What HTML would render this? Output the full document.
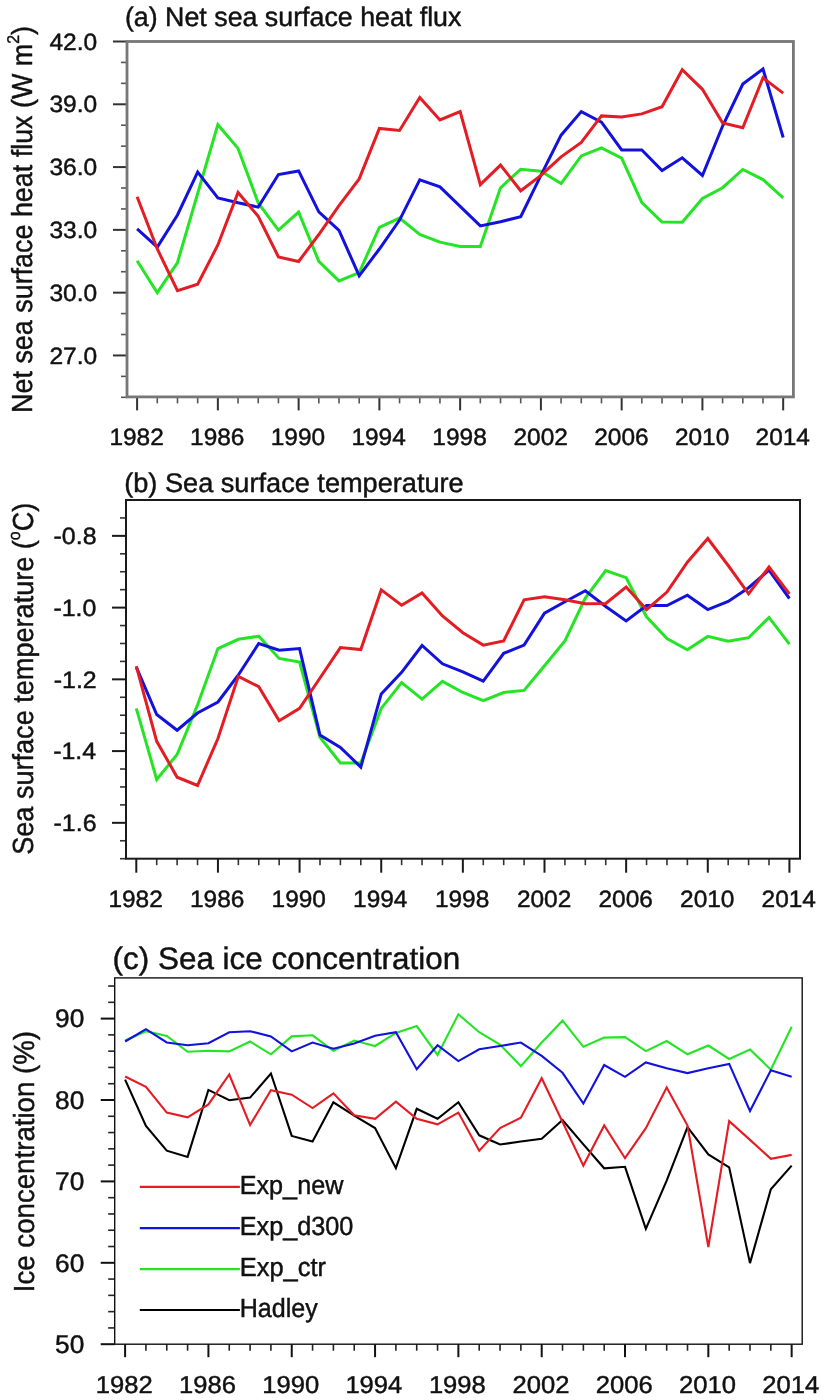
<!DOCTYPE html>
<html><head><meta charset="utf-8"><title>Chart</title>
<style>
html,body{margin:0;padding:0;background:#fff;}
body{width:825px;height:1400px;overflow:hidden;}
svg{display:block;font-family:"Liberation Sans", sans-serif;}
text{fill:#111;stroke:#111;stroke-width:0.45px;font-kerning:none;text-rendering:geometricPrecision;}
svg{will-change:transform;filter:blur(0.25px);}
</style></head>
<body>
<svg width="825" height="1400" viewBox="0 0 825 1400">
<rect x="0" y="0" width="825" height="1400" fill="#fff"/>
<polyline points="137.10,260.70 157.29,292.70 177.48,262.50 197.67,193.50 217.86,124.70 238.05,148.40 258.24,203.00 278.43,230.10 298.62,212.10 318.81,261.30 339.00,280.90 359.19,272.70 379.38,227.30 399.57,218.10 419.76,234.50 439.95,242.10 460.14,246.50 480.33,246.50 500.52,187.80 520.71,169.20 540.90,171.30 561.09,183.60 581.28,155.90 601.47,147.90 621.66,158.20 641.85,202.50 662.04,222.10 682.23,222.30 702.42,198.50 722.61,187.70 742.80,169.50 762.99,179.60 783.18,197.80" fill="none" stroke="#24e424" stroke-width="3.0" stroke-linejoin="miter" stroke-miterlimit="4" stroke-linecap="butt"/>
<polyline points="137.10,228.80 157.29,247.10 177.48,215.00 197.67,172.10 217.86,198.00 238.05,202.80 258.24,207.10 278.43,174.50 298.62,170.90 318.81,211.90 339.00,230.40 359.19,275.80 379.38,249.00 399.57,220.10 419.76,179.90 439.95,186.90 460.14,206.30 480.33,225.90 500.52,221.80 520.71,216.60 540.90,175.40 561.09,135.20 581.28,111.60 601.47,122.10 621.66,149.90 641.85,149.90 662.04,170.50 682.23,157.80 702.42,175.50 722.61,126.00 742.80,84.00 762.99,69.10 783.18,137.50" fill="none" stroke="#1212dc" stroke-width="3.0" stroke-linejoin="miter" stroke-miterlimit="4" stroke-linecap="butt"/>
<polyline points="137.10,196.80 157.29,249.00 177.48,290.60 197.67,284.20 217.86,245.00 238.05,192.50 258.24,216.40 278.43,256.90 298.62,261.50 318.81,234.50 339.00,205.70 359.19,178.90 379.38,128.40 399.57,130.50 419.76,97.50 439.95,120.00 460.14,111.50 480.33,184.70 500.52,165.10 520.71,190.80 540.90,175.40 561.09,156.80 581.28,142.50 601.47,115.90 621.66,117.00 641.85,113.90 662.04,106.70 682.23,69.70 702.42,89.30 722.61,123.00 742.80,127.80 762.99,77.80 783.18,93.10" fill="none" stroke="#e41c24" stroke-width="3.0" stroke-linejoin="miter" stroke-miterlimit="4" stroke-linecap="butt"/>
<line x1="137.10" y1="396.90" x2="137.10" y2="410.40" stroke="#333" stroke-width="2.0"/>
<line x1="157.29" y1="396.90" x2="157.29" y2="403.40" stroke="#555" stroke-width="1.6"/>
<line x1="177.48" y1="396.90" x2="177.48" y2="403.40" stroke="#555" stroke-width="1.6"/>
<line x1="197.67" y1="396.90" x2="197.67" y2="403.40" stroke="#555" stroke-width="1.6"/>
<line x1="217.86" y1="396.90" x2="217.86" y2="410.40" stroke="#333" stroke-width="2.0"/>
<line x1="238.05" y1="396.90" x2="238.05" y2="403.40" stroke="#555" stroke-width="1.6"/>
<line x1="258.24" y1="396.90" x2="258.24" y2="403.40" stroke="#555" stroke-width="1.6"/>
<line x1="278.43" y1="396.90" x2="278.43" y2="403.40" stroke="#555" stroke-width="1.6"/>
<line x1="298.62" y1="396.90" x2="298.62" y2="410.40" stroke="#333" stroke-width="2.0"/>
<line x1="318.81" y1="396.90" x2="318.81" y2="403.40" stroke="#555" stroke-width="1.6"/>
<line x1="339.00" y1="396.90" x2="339.00" y2="403.40" stroke="#555" stroke-width="1.6"/>
<line x1="359.19" y1="396.90" x2="359.19" y2="403.40" stroke="#555" stroke-width="1.6"/>
<line x1="379.38" y1="396.90" x2="379.38" y2="410.40" stroke="#333" stroke-width="2.0"/>
<line x1="399.57" y1="396.90" x2="399.57" y2="403.40" stroke="#555" stroke-width="1.6"/>
<line x1="419.76" y1="396.90" x2="419.76" y2="403.40" stroke="#555" stroke-width="1.6"/>
<line x1="439.95" y1="396.90" x2="439.95" y2="403.40" stroke="#555" stroke-width="1.6"/>
<line x1="460.14" y1="396.90" x2="460.14" y2="410.40" stroke="#333" stroke-width="2.0"/>
<line x1="480.33" y1="396.90" x2="480.33" y2="403.40" stroke="#555" stroke-width="1.6"/>
<line x1="500.52" y1="396.90" x2="500.52" y2="403.40" stroke="#555" stroke-width="1.6"/>
<line x1="520.71" y1="396.90" x2="520.71" y2="403.40" stroke="#555" stroke-width="1.6"/>
<line x1="540.90" y1="396.90" x2="540.90" y2="410.40" stroke="#333" stroke-width="2.0"/>
<line x1="561.09" y1="396.90" x2="561.09" y2="403.40" stroke="#555" stroke-width="1.6"/>
<line x1="581.28" y1="396.90" x2="581.28" y2="403.40" stroke="#555" stroke-width="1.6"/>
<line x1="601.47" y1="396.90" x2="601.47" y2="403.40" stroke="#555" stroke-width="1.6"/>
<line x1="621.66" y1="396.90" x2="621.66" y2="410.40" stroke="#333" stroke-width="2.0"/>
<line x1="641.85" y1="396.90" x2="641.85" y2="403.40" stroke="#555" stroke-width="1.6"/>
<line x1="662.04" y1="396.90" x2="662.04" y2="403.40" stroke="#555" stroke-width="1.6"/>
<line x1="682.23" y1="396.90" x2="682.23" y2="403.40" stroke="#555" stroke-width="1.6"/>
<line x1="702.42" y1="396.90" x2="702.42" y2="410.40" stroke="#333" stroke-width="2.0"/>
<line x1="722.61" y1="396.90" x2="722.61" y2="403.40" stroke="#555" stroke-width="1.6"/>
<line x1="742.80" y1="396.90" x2="742.80" y2="403.40" stroke="#555" stroke-width="1.6"/>
<line x1="762.99" y1="396.90" x2="762.99" y2="403.40" stroke="#555" stroke-width="1.6"/>
<line x1="783.18" y1="396.90" x2="783.18" y2="410.40" stroke="#333" stroke-width="2.0"/>
<line x1="121.00" y1="397.31" x2="127.00" y2="397.31" stroke="#555" stroke-width="1.6"/>
<line x1="121.00" y1="376.38" x2="127.00" y2="376.38" stroke="#555" stroke-width="1.6"/>
<line x1="113.00" y1="355.45" x2="127.00" y2="355.45" stroke="#333" stroke-width="2.0"/>
<line x1="121.00" y1="334.52" x2="127.00" y2="334.52" stroke="#555" stroke-width="1.6"/>
<line x1="121.00" y1="313.59" x2="127.00" y2="313.59" stroke="#555" stroke-width="1.6"/>
<line x1="113.00" y1="292.66" x2="127.00" y2="292.66" stroke="#333" stroke-width="2.0"/>
<line x1="121.00" y1="271.73" x2="127.00" y2="271.73" stroke="#555" stroke-width="1.6"/>
<line x1="121.00" y1="250.80" x2="127.00" y2="250.80" stroke="#555" stroke-width="1.6"/>
<line x1="113.00" y1="229.87" x2="127.00" y2="229.87" stroke="#333" stroke-width="2.0"/>
<line x1="121.00" y1="208.94" x2="127.00" y2="208.94" stroke="#555" stroke-width="1.6"/>
<line x1="121.00" y1="188.01" x2="127.00" y2="188.01" stroke="#555" stroke-width="1.6"/>
<line x1="113.00" y1="167.08" x2="127.00" y2="167.08" stroke="#333" stroke-width="2.0"/>
<line x1="121.00" y1="146.15" x2="127.00" y2="146.15" stroke="#555" stroke-width="1.6"/>
<line x1="121.00" y1="125.22" x2="127.00" y2="125.22" stroke="#555" stroke-width="1.6"/>
<line x1="113.00" y1="104.29" x2="127.00" y2="104.29" stroke="#333" stroke-width="2.0"/>
<line x1="121.00" y1="83.36" x2="127.00" y2="83.36" stroke="#555" stroke-width="1.6"/>
<line x1="121.00" y1="62.43" x2="127.00" y2="62.43" stroke="#555" stroke-width="1.6"/>
<line x1="113.00" y1="41.50" x2="127.00" y2="41.50" stroke="#333" stroke-width="2.0"/>
<rect x="127.00" y="41.50" width="666.40" height="355.40" fill="none" stroke="#777777" stroke-width="2.8"/>
<polyline points="136.30,708.40 156.71,779.50 177.12,754.50 197.53,705.00 217.94,648.60 238.35,639.30 258.76,636.20 279.17,658.40 299.58,662.00 319.99,737.20 340.40,763.00 360.81,763.00 381.22,708.40 401.63,682.60 422.04,699.10 442.45,681.40 462.86,692.50 483.27,700.70 503.68,692.50 524.09,690.40 544.50,665.70 564.91,641.00 585.32,598.00 605.73,570.50 626.14,577.70 646.55,616.80 666.96,638.50 687.37,649.80 707.78,636.40 728.19,641.30 748.60,637.70 769.01,617.40 789.42,644.20" fill="none" stroke="#24e424" stroke-width="3.0" stroke-linejoin="miter" stroke-miterlimit="4" stroke-linecap="butt"/>
<polyline points="136.30,667.10 156.71,714.50 177.12,730.20 197.53,713.00 217.94,702.00 238.35,675.00 258.76,643.50 279.17,650.20 299.58,648.60 319.99,735.10 340.40,747.50 360.81,767.10 381.22,693.90 401.63,672.30 422.04,645.50 442.45,663.80 462.86,671.90 483.27,681.20 503.68,653.30 524.09,645.10 544.50,613.10 564.91,601.80 585.32,590.80 605.73,606.50 626.14,621.00 646.55,605.50 666.96,605.50 687.37,595.20 707.78,609.60 728.19,601.50 748.60,587.70 769.01,570.10 789.42,598.50" fill="none" stroke="#1212dc" stroke-width="3.0" stroke-linejoin="miter" stroke-miterlimit="4" stroke-linecap="butt"/>
<polyline points="136.30,666.10 156.71,741.30 177.12,777.20 197.53,785.50 217.94,738.50 238.35,676.40 258.76,686.70 279.17,720.70 299.58,708.40 319.99,678.00 340.40,647.60 360.81,649.60 381.22,589.90 401.63,605.30 422.04,593.00 442.45,615.90 462.86,632.70 483.27,645.10 503.68,641.00 524.09,599.80 544.50,596.70 564.91,599.80 585.32,603.70 605.73,603.50 626.14,587.00 646.55,609.60 666.96,592.10 687.37,562.20 707.78,538.50 728.19,565.50 748.60,593.80 769.01,567.00 789.42,593.80" fill="none" stroke="#e41c24" stroke-width="3.0" stroke-linejoin="miter" stroke-miterlimit="4" stroke-linecap="butt"/>
<line x1="136.30" y1="858.70" x2="136.30" y2="872.70" stroke="#1a1a1a" stroke-width="2.0"/>
<line x1="156.71" y1="858.70" x2="156.71" y2="865.20" stroke="#333" stroke-width="1.6"/>
<line x1="177.12" y1="858.70" x2="177.12" y2="865.20" stroke="#333" stroke-width="1.6"/>
<line x1="197.53" y1="858.70" x2="197.53" y2="865.20" stroke="#333" stroke-width="1.6"/>
<line x1="217.94" y1="858.70" x2="217.94" y2="872.70" stroke="#1a1a1a" stroke-width="2.0"/>
<line x1="238.35" y1="858.70" x2="238.35" y2="865.20" stroke="#333" stroke-width="1.6"/>
<line x1="258.76" y1="858.70" x2="258.76" y2="865.20" stroke="#333" stroke-width="1.6"/>
<line x1="279.17" y1="858.70" x2="279.17" y2="865.20" stroke="#333" stroke-width="1.6"/>
<line x1="299.58" y1="858.70" x2="299.58" y2="872.70" stroke="#1a1a1a" stroke-width="2.0"/>
<line x1="319.99" y1="858.70" x2="319.99" y2="865.20" stroke="#333" stroke-width="1.6"/>
<line x1="340.40" y1="858.70" x2="340.40" y2="865.20" stroke="#333" stroke-width="1.6"/>
<line x1="360.81" y1="858.70" x2="360.81" y2="865.20" stroke="#333" stroke-width="1.6"/>
<line x1="381.22" y1="858.70" x2="381.22" y2="872.70" stroke="#1a1a1a" stroke-width="2.0"/>
<line x1="401.63" y1="858.70" x2="401.63" y2="865.20" stroke="#333" stroke-width="1.6"/>
<line x1="422.04" y1="858.70" x2="422.04" y2="865.20" stroke="#333" stroke-width="1.6"/>
<line x1="442.45" y1="858.70" x2="442.45" y2="865.20" stroke="#333" stroke-width="1.6"/>
<line x1="462.86" y1="858.70" x2="462.86" y2="872.70" stroke="#1a1a1a" stroke-width="2.0"/>
<line x1="483.27" y1="858.70" x2="483.27" y2="865.20" stroke="#333" stroke-width="1.6"/>
<line x1="503.68" y1="858.70" x2="503.68" y2="865.20" stroke="#333" stroke-width="1.6"/>
<line x1="524.09" y1="858.70" x2="524.09" y2="865.20" stroke="#333" stroke-width="1.6"/>
<line x1="544.50" y1="858.70" x2="544.50" y2="872.70" stroke="#1a1a1a" stroke-width="2.0"/>
<line x1="564.91" y1="858.70" x2="564.91" y2="865.20" stroke="#333" stroke-width="1.6"/>
<line x1="585.32" y1="858.70" x2="585.32" y2="865.20" stroke="#333" stroke-width="1.6"/>
<line x1="605.73" y1="858.70" x2="605.73" y2="865.20" stroke="#333" stroke-width="1.6"/>
<line x1="626.14" y1="858.70" x2="626.14" y2="872.70" stroke="#1a1a1a" stroke-width="2.0"/>
<line x1="646.55" y1="858.70" x2="646.55" y2="865.20" stroke="#333" stroke-width="1.6"/>
<line x1="666.96" y1="858.70" x2="666.96" y2="865.20" stroke="#333" stroke-width="1.6"/>
<line x1="687.37" y1="858.70" x2="687.37" y2="865.20" stroke="#333" stroke-width="1.6"/>
<line x1="707.78" y1="858.70" x2="707.78" y2="872.70" stroke="#1a1a1a" stroke-width="2.0"/>
<line x1="728.19" y1="858.70" x2="728.19" y2="865.20" stroke="#333" stroke-width="1.6"/>
<line x1="748.60" y1="858.70" x2="748.60" y2="865.20" stroke="#333" stroke-width="1.6"/>
<line x1="769.01" y1="858.70" x2="769.01" y2="865.20" stroke="#333" stroke-width="1.6"/>
<line x1="789.42" y1="858.70" x2="789.42" y2="872.70" stroke="#1a1a1a" stroke-width="2.0"/>
<line x1="120.00" y1="517.94" x2="126.00" y2="517.94" stroke="#333" stroke-width="1.6"/>
<line x1="112.00" y1="535.87" x2="126.00" y2="535.87" stroke="#1a1a1a" stroke-width="2.0"/>
<line x1="120.00" y1="553.81" x2="126.00" y2="553.81" stroke="#333" stroke-width="1.6"/>
<line x1="120.00" y1="571.74" x2="126.00" y2="571.74" stroke="#333" stroke-width="1.6"/>
<line x1="120.00" y1="589.67" x2="126.00" y2="589.67" stroke="#333" stroke-width="1.6"/>
<line x1="112.00" y1="607.61" x2="126.00" y2="607.61" stroke="#1a1a1a" stroke-width="2.0"/>
<line x1="120.00" y1="625.55" x2="126.00" y2="625.55" stroke="#333" stroke-width="1.6"/>
<line x1="120.00" y1="643.48" x2="126.00" y2="643.48" stroke="#333" stroke-width="1.6"/>
<line x1="120.00" y1="661.41" x2="126.00" y2="661.41" stroke="#333" stroke-width="1.6"/>
<line x1="112.00" y1="679.35" x2="126.00" y2="679.35" stroke="#1a1a1a" stroke-width="2.0"/>
<line x1="120.00" y1="697.28" x2="126.00" y2="697.28" stroke="#333" stroke-width="1.6"/>
<line x1="120.00" y1="715.22" x2="126.00" y2="715.22" stroke="#333" stroke-width="1.6"/>
<line x1="120.00" y1="733.15" x2="126.00" y2="733.15" stroke="#333" stroke-width="1.6"/>
<line x1="112.00" y1="751.09" x2="126.00" y2="751.09" stroke="#1a1a1a" stroke-width="2.0"/>
<line x1="120.00" y1="769.02" x2="126.00" y2="769.02" stroke="#333" stroke-width="1.6"/>
<line x1="120.00" y1="786.96" x2="126.00" y2="786.96" stroke="#333" stroke-width="1.6"/>
<line x1="120.00" y1="804.89" x2="126.00" y2="804.89" stroke="#333" stroke-width="1.6"/>
<line x1="112.00" y1="822.83" x2="126.00" y2="822.83" stroke="#1a1a1a" stroke-width="2.0"/>
<line x1="120.00" y1="840.76" x2="126.00" y2="840.76" stroke="#333" stroke-width="1.6"/>
<line x1="120.00" y1="858.70" x2="126.00" y2="858.70" stroke="#333" stroke-width="1.6"/>
<rect x="126.00" y="500.00" width="674.00" height="358.70" fill="none" stroke="#1a1a1a" stroke-width="2.0"/>
<polyline points="125.10,1079.60 145.93,1126.00 166.76,1150.70 187.59,1156.90 208.42,1089.90 229.25,1100.20 250.08,1097.60 270.91,1073.50 291.74,1135.90 312.57,1141.50 333.40,1102.30 354.23,1115.70 375.06,1128.10 395.89,1168.20 416.72,1108.80 437.55,1118.80 458.38,1102.30 479.21,1135.30 500.04,1144.50 520.87,1141.50 541.70,1138.80 562.53,1120.00 583.36,1144.40 604.19,1168.30 625.02,1166.80 645.85,1228.90 666.68,1180.70 687.51,1127.10 708.34,1154.40 729.17,1167.30 750.00,1263.10 770.83,1189.20 791.66,1165.60" fill="none" stroke="#000000" stroke-width="2.1" stroke-linejoin="miter" stroke-miterlimit="4" stroke-linecap="butt"/>
<polyline points="125.10,1040.50 145.93,1031.20 166.76,1036.00 187.59,1051.80 208.42,1050.80 229.25,1051.40 250.08,1041.50 270.91,1054.30 291.74,1036.40 312.57,1035.30 333.40,1050.80 354.23,1040.50 375.06,1046.00 395.89,1032.90 416.72,1026.10 437.55,1054.90 458.38,1014.30 479.21,1032.20 500.04,1044.60 520.87,1066.20 541.70,1042.50 562.53,1020.70 583.36,1046.80 604.19,1037.60 625.02,1037.10 645.85,1051.10 666.68,1041.00 687.51,1054.30 708.34,1045.50 729.17,1059.00 750.00,1049.50 770.83,1069.70 791.66,1026.80" fill="none" stroke="#24e424" stroke-width="2.1" stroke-linejoin="miter" stroke-miterlimit="4" stroke-linecap="butt"/>
<polyline points="125.10,1041.50 145.93,1029.20 166.76,1042.50 187.59,1045.20 208.42,1043.20 229.25,1032.20 250.08,1031.20 270.91,1036.40 291.74,1051.40 312.57,1042.50 333.40,1048.70 354.23,1043.60 375.06,1035.70 395.89,1032.20 416.72,1069.30 437.55,1045.20 458.38,1061.10 479.21,1049.30 500.04,1046.00 520.87,1042.50 541.70,1055.90 562.53,1072.80 583.36,1103.50 604.19,1065.00 625.02,1076.80 645.85,1062.40 666.68,1068.20 687.51,1073.10 708.34,1068.20 729.17,1063.90 750.00,1111.00 770.83,1070.30 791.66,1076.70" fill="none" stroke="#1212dc" stroke-width="2.1" stroke-linejoin="miter" stroke-miterlimit="4" stroke-linecap="butt"/>
<polyline points="125.10,1076.50 145.93,1086.80 166.76,1112.60 187.59,1117.30 208.42,1104.40 229.25,1074.50 250.08,1125.00 270.91,1090.20 291.74,1094.70 312.57,1108.10 333.40,1093.40 354.23,1115.30 375.06,1118.80 395.89,1101.70 416.72,1118.80 437.55,1124.30 458.38,1112.60 479.21,1150.70 500.04,1128.10 520.87,1117.80 541.70,1078.20 562.53,1122.00 583.36,1165.60 604.19,1125.40 625.02,1158.20 645.85,1128.20 666.68,1087.50 687.51,1125.50 708.34,1247.00 729.17,1121.10 750.00,1139.90 770.83,1158.80 791.66,1154.90" fill="none" stroke="#e41c24" stroke-width="2.1" stroke-linejoin="miter" stroke-miterlimit="4" stroke-linecap="butt"/>
<line x1="125.10" y1="1344.20" x2="125.10" y2="1357.20" stroke="#111" stroke-width="2.0"/>
<line x1="145.93" y1="1344.20" x2="145.93" y2="1350.70" stroke="#222" stroke-width="1.6"/>
<line x1="166.76" y1="1344.20" x2="166.76" y2="1350.70" stroke="#222" stroke-width="1.6"/>
<line x1="187.59" y1="1344.20" x2="187.59" y2="1350.70" stroke="#222" stroke-width="1.6"/>
<line x1="208.42" y1="1344.20" x2="208.42" y2="1357.20" stroke="#111" stroke-width="2.0"/>
<line x1="229.25" y1="1344.20" x2="229.25" y2="1350.70" stroke="#222" stroke-width="1.6"/>
<line x1="250.08" y1="1344.20" x2="250.08" y2="1350.70" stroke="#222" stroke-width="1.6"/>
<line x1="270.91" y1="1344.20" x2="270.91" y2="1350.70" stroke="#222" stroke-width="1.6"/>
<line x1="291.74" y1="1344.20" x2="291.74" y2="1357.20" stroke="#111" stroke-width="2.0"/>
<line x1="312.57" y1="1344.20" x2="312.57" y2="1350.70" stroke="#222" stroke-width="1.6"/>
<line x1="333.40" y1="1344.20" x2="333.40" y2="1350.70" stroke="#222" stroke-width="1.6"/>
<line x1="354.23" y1="1344.20" x2="354.23" y2="1350.70" stroke="#222" stroke-width="1.6"/>
<line x1="375.06" y1="1344.20" x2="375.06" y2="1357.20" stroke="#111" stroke-width="2.0"/>
<line x1="395.89" y1="1344.20" x2="395.89" y2="1350.70" stroke="#222" stroke-width="1.6"/>
<line x1="416.72" y1="1344.20" x2="416.72" y2="1350.70" stroke="#222" stroke-width="1.6"/>
<line x1="437.55" y1="1344.20" x2="437.55" y2="1350.70" stroke="#222" stroke-width="1.6"/>
<line x1="458.38" y1="1344.20" x2="458.38" y2="1357.20" stroke="#111" stroke-width="2.0"/>
<line x1="479.21" y1="1344.20" x2="479.21" y2="1350.70" stroke="#222" stroke-width="1.6"/>
<line x1="500.04" y1="1344.20" x2="500.04" y2="1350.70" stroke="#222" stroke-width="1.6"/>
<line x1="520.87" y1="1344.20" x2="520.87" y2="1350.70" stroke="#222" stroke-width="1.6"/>
<line x1="541.70" y1="1344.20" x2="541.70" y2="1357.20" stroke="#111" stroke-width="2.0"/>
<line x1="562.53" y1="1344.20" x2="562.53" y2="1350.70" stroke="#222" stroke-width="1.6"/>
<line x1="583.36" y1="1344.20" x2="583.36" y2="1350.70" stroke="#222" stroke-width="1.6"/>
<line x1="604.19" y1="1344.20" x2="604.19" y2="1350.70" stroke="#222" stroke-width="1.6"/>
<line x1="625.02" y1="1344.20" x2="625.02" y2="1357.20" stroke="#111" stroke-width="2.0"/>
<line x1="645.85" y1="1344.20" x2="645.85" y2="1350.70" stroke="#222" stroke-width="1.6"/>
<line x1="666.68" y1="1344.20" x2="666.68" y2="1350.70" stroke="#222" stroke-width="1.6"/>
<line x1="687.51" y1="1344.20" x2="687.51" y2="1350.70" stroke="#222" stroke-width="1.6"/>
<line x1="708.34" y1="1344.20" x2="708.34" y2="1357.20" stroke="#111" stroke-width="2.0"/>
<line x1="729.17" y1="1344.20" x2="729.17" y2="1350.70" stroke="#222" stroke-width="1.6"/>
<line x1="750.00" y1="1344.20" x2="750.00" y2="1350.70" stroke="#222" stroke-width="1.6"/>
<line x1="770.83" y1="1344.20" x2="770.83" y2="1350.70" stroke="#222" stroke-width="1.6"/>
<line x1="791.66" y1="1344.20" x2="791.66" y2="1357.20" stroke="#111" stroke-width="2.0"/>
<line x1="108.20" y1="1327.92" x2="114.70" y2="1327.92" stroke="#222" stroke-width="1.6"/>
<line x1="108.20" y1="1311.64" x2="114.70" y2="1311.64" stroke="#222" stroke-width="1.6"/>
<line x1="108.20" y1="1295.36" x2="114.70" y2="1295.36" stroke="#222" stroke-width="1.6"/>
<line x1="108.20" y1="1279.08" x2="114.70" y2="1279.08" stroke="#222" stroke-width="1.6"/>
<line x1="100.70" y1="1262.80" x2="114.70" y2="1262.80" stroke="#111" stroke-width="2.0"/>
<line x1="108.20" y1="1246.52" x2="114.70" y2="1246.52" stroke="#222" stroke-width="1.6"/>
<line x1="108.20" y1="1230.24" x2="114.70" y2="1230.24" stroke="#222" stroke-width="1.6"/>
<line x1="108.20" y1="1213.96" x2="114.70" y2="1213.96" stroke="#222" stroke-width="1.6"/>
<line x1="108.20" y1="1197.68" x2="114.70" y2="1197.68" stroke="#222" stroke-width="1.6"/>
<line x1="100.70" y1="1181.40" x2="114.70" y2="1181.40" stroke="#111" stroke-width="2.0"/>
<line x1="108.20" y1="1165.12" x2="114.70" y2="1165.12" stroke="#222" stroke-width="1.6"/>
<line x1="108.20" y1="1148.84" x2="114.70" y2="1148.84" stroke="#222" stroke-width="1.6"/>
<line x1="108.20" y1="1132.56" x2="114.70" y2="1132.56" stroke="#222" stroke-width="1.6"/>
<line x1="108.20" y1="1116.28" x2="114.70" y2="1116.28" stroke="#222" stroke-width="1.6"/>
<line x1="100.70" y1="1100.00" x2="114.70" y2="1100.00" stroke="#111" stroke-width="2.0"/>
<line x1="108.20" y1="1083.72" x2="114.70" y2="1083.72" stroke="#222" stroke-width="1.6"/>
<line x1="108.20" y1="1067.44" x2="114.70" y2="1067.44" stroke="#222" stroke-width="1.6"/>
<line x1="108.20" y1="1051.16" x2="114.70" y2="1051.16" stroke="#222" stroke-width="1.6"/>
<line x1="108.20" y1="1034.88" x2="114.70" y2="1034.88" stroke="#222" stroke-width="1.6"/>
<line x1="100.70" y1="1018.60" x2="114.70" y2="1018.60" stroke="#111" stroke-width="2.0"/>
<line x1="108.20" y1="1002.32" x2="114.70" y2="1002.32" stroke="#222" stroke-width="1.6"/>
<line x1="108.20" y1="986.04" x2="114.70" y2="986.04" stroke="#222" stroke-width="1.6"/>
<line x1="100.70" y1="1344.20" x2="114.70" y2="1344.20" stroke="#111" stroke-width="2.0"/>
<rect x="114.70" y="977.90" width="687.50" height="366.30" fill="none" stroke="#111" stroke-width="1.4"/>
<text transform="translate(124.94,25.70) scale(0.9920,1)" font-size="27">(a) Net sea surface heat flux</text>
<text transform="translate(124.22,492.00) scale(1.0054,1)" font-size="27">(b) Sea surface temperature</text>
<text transform="translate(112.55,969.10) scale(1.0140,1)" font-size="31">(c) Sea ice concentration</text>
<text transform="translate(109.40,444.60) scale(1.0400,1)" font-size="23.5">1982</text>
<text transform="translate(190.08,444.60) scale(1.0400,1)" font-size="23.5">1986</text>
<text transform="translate(270.78,444.60) scale(1.0400,1)" font-size="23.5">1990</text>
<text transform="translate(351.42,444.60) scale(1.0400,1)" font-size="23.5">1994</text>
<text transform="translate(432.36,444.60) scale(1.0400,1)" font-size="23.5">1998</text>
<text transform="translate(513.52,444.60) scale(1.0400,1)" font-size="23.5">2002</text>
<text transform="translate(594.20,444.60) scale(1.0400,1)" font-size="23.5">2006</text>
<text transform="translate(674.90,444.60) scale(1.0400,1)" font-size="23.5">2010</text>
<text transform="translate(755.54,444.60) scale(1.0400,1)" font-size="23.5">2014</text>
<text transform="translate(108.40,906.60) scale(1.0400,1)" font-size="23.5">1982</text>
<text transform="translate(189.96,906.60) scale(1.0400,1)" font-size="23.5">1986</text>
<text transform="translate(271.54,906.60) scale(1.0400,1)" font-size="23.5">1990</text>
<text transform="translate(353.06,906.60) scale(1.0400,1)" font-size="23.5">1994</text>
<text transform="translate(434.88,906.60) scale(1.0400,1)" font-size="23.5">1998</text>
<text transform="translate(516.92,906.60) scale(1.0400,1)" font-size="23.5">2002</text>
<text transform="translate(598.48,906.60) scale(1.0400,1)" font-size="23.5">2006</text>
<text transform="translate(680.06,906.60) scale(1.0400,1)" font-size="23.5">2010</text>
<text transform="translate(761.58,906.60) scale(1.0400,1)" font-size="23.5">2014</text>
<text transform="translate(95.69,1393.00) scale(1.0450,1)" font-size="24.5">1982</text>
<text transform="translate(178.93,1393.00) scale(1.0450,1)" font-size="24.5">1986</text>
<text transform="translate(262.19,1393.00) scale(1.0450,1)" font-size="24.5">1990</text>
<text transform="translate(345.38,1393.00) scale(1.0450,1)" font-size="24.5">1994</text>
<text transform="translate(428.88,1393.00) scale(1.0450,1)" font-size="24.5">1998</text>
<text transform="translate(512.62,1393.00) scale(1.0450,1)" font-size="24.5">2002</text>
<text transform="translate(595.86,1393.00) scale(1.0450,1)" font-size="24.5">2006</text>
<text transform="translate(679.12,1393.00) scale(1.0450,1)" font-size="24.5">2010</text>
<text transform="translate(762.31,1393.00) scale(1.0450,1)" font-size="24.5">2014</text>
<text transform="translate(49.46,49.68) scale(1.0450,1)" font-size="23.5">42.0</text>
<text transform="translate(49.46,112.47) scale(1.0450,1)" font-size="23.5">39.0</text>
<text transform="translate(49.46,175.26) scale(1.0450,1)" font-size="23.5">36.0</text>
<text transform="translate(49.46,238.05) scale(1.0450,1)" font-size="23.5">33.0</text>
<text transform="translate(49.46,300.84) scale(1.0450,1)" font-size="23.5">30.0</text>
<text transform="translate(49.46,363.63) scale(1.0450,1)" font-size="23.5">27.0</text>
<text transform="translate(53.56,544.05) scale(1.0600,1)" font-size="23.5">-0.8</text>
<text transform="translate(53.45,615.79) scale(1.0600,1)" font-size="23.5">-1.0</text>
<text transform="translate(53.73,687.53) scale(1.0600,1)" font-size="23.5">-1.2</text>
<text transform="translate(53.21,759.27) scale(1.0600,1)" font-size="23.5">-1.4</text>
<text transform="translate(53.57,831.01) scale(1.0600,1)" font-size="23.5">-1.6</text>
<text transform="translate(55.11,1027.47) scale(1.0300,1)" font-size="25.5">90</text>
<text transform="translate(55.11,1108.87) scale(1.0300,1)" font-size="25.5">80</text>
<text transform="translate(55.11,1190.27) scale(1.0300,1)" font-size="25.5">70</text>
<text transform="translate(55.11,1271.67) scale(1.0300,1)" font-size="25.5">60</text>
<text transform="translate(55.11,1353.07) scale(1.0300,1)" font-size="25.5">50</text>
<text transform="translate(31.80,412.91) rotate(-90) scale(0.9273,1)" font-size="29"><tspan font-size="29" dy="0">Net sea surface heat flux (W m</tspan><tspan font-size="17" dy="-13.2">2</tspan><tspan font-size="29" dy="13.2">)</tspan></text>
<text transform="translate(33.30,854.83) rotate(-90) scale(0.9341,1)" font-size="29"><tspan font-size="29" dy="0">Sea surface temperature (</tspan><tspan font-size="17" dy="-13.3">o</tspan><tspan font-size="29" dy="13.3">C)</tspan></text>
<text transform="translate(34.00,1292.25) rotate(-90) scale(0.9535,1)" font-size="29"><tspan font-size="29" dy="0">Ice concentration (%)</tspan></text>
<line x1="139.80" y1="1186.80" x2="239.90" y2="1186.80" stroke="#e41c24" stroke-width="2.2"/>
<text transform="translate(239.73,1193.60) scale(0.9576,1)" font-size="26.3">Exp_new</text>
<line x1="139.80" y1="1228.20" x2="239.90" y2="1228.20" stroke="#1212dc" stroke-width="2.2"/>
<text transform="translate(239.73,1234.70) scale(0.9595,1)" font-size="26.3">Exp_d300</text>
<line x1="139.80" y1="1269.10" x2="239.90" y2="1269.10" stroke="#24e424" stroke-width="2.2"/>
<text transform="translate(239.71,1275.80) scale(0.9680,1)" font-size="26.3">Exp_ctr</text>
<line x1="139.80" y1="1310.00" x2="239.90" y2="1310.00" stroke="#000000" stroke-width="2.2"/>
<text transform="translate(239.74,1316.90) scale(0.9528,1)" font-size="26.3">Hadley</text>
</svg>
</body></html>
